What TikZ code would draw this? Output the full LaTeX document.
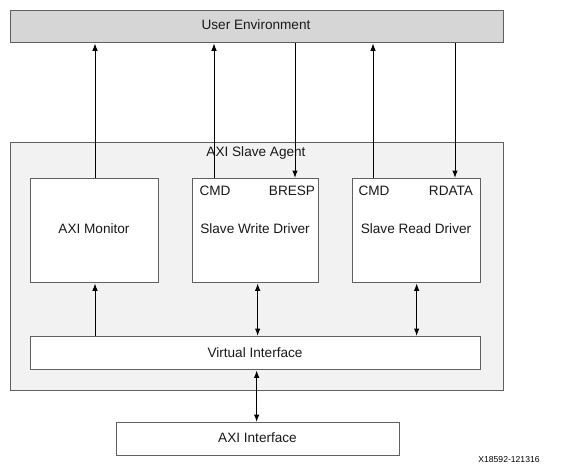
\documentclass[tikz,border=0pt]{standalone}
\usepackage{fontspec}
\setmainfont{Liberation Sans}
\usetikzlibrary{arrows.meta,calc}
\definecolor{bordergray}{HTML}{606060}
\definecolor{uefill}{HTML}{D6D6D6}
\definecolor{agentfill}{HTML}{F2F2F2}
\begin{document}
\begin{tikzpicture}[x=1pt,y=-1pt,
  every node/.style={font=\fontsize{13.6}{16}\selectfont, inner sep=0pt},
  box/.style={draw=bordergray, line width=1.3pt, fill=white, anchor=north west},
  lbl/.style={text=black!90},
  conn/.style={line width=1pt, -{Latex[length=7.5pt,width=5.5pt]}},
  dconn/.style={line width=1pt, {Latex[length=7.5pt,width=5.5pt]}-{Latex[length=7.5pt,width=5.5pt]}}]
\useasboundingbox (0,0) rectangle (562,471);
% outer boxes
\node[box, fill=uefill, minimum width=493pt, minimum height=32.5pt] (ue) at (10,9.5) {};
\node[lbl] (uelbl) at (256,25) {User Environment};
\node[box, fill=agentfill, minimum width=493pt, minimum height=248pt] (agent) at (10,142) {};
\node[lbl] (agentlbl) at (256,153) {AXI Slave Agent};
% inner boxes
\node[box, minimum width=128pt, minimum height=104pt] (mon) at (30,178) {};
\node[lbl] at (94,229) {AXI Monitor};
\node[box, minimum width=126pt, minimum height=104pt] (wd) at (192,178) {};
\node[lbl] (cmdw) at (215,191) {CMD};
\node[lbl] (bresp) at (292,191) {BRESP};
\node[lbl] at (255,229) {Slave Write Driver};
\node[box, minimum width=128pt, minimum height=104pt] (rd) at (352,178) {};
\node[lbl] (cmdr) at (374,191) {CMD};
\node[lbl] (rdata) at (451,191) {RDATA};
\node[lbl] at (416,229) {Slave Read Driver};
\node[box, minimum width=450pt, minimum height=33pt] (vi) at (30,336) {};
\node[lbl] at (255,352.5) {Virtual Interface};
\node[box, minimum width=283pt, minimum height=32.5pt] (axi) at (116,422) {};
\node[lbl] at (257.5,438) {AXI Interface};
\node[font=\fontsize{8.6}{10}\selectfont] (code) at (509,459.5) {X18592-121316};
% connectors
\coordinate (mc) at ([xshift=65pt]mon.north west);
\coordinate (wc) at ([xshift=22pt]wd.north west);
\coordinate (wb) at ([xshift=103pt]wd.north west);
\coordinate (rc) at ([xshift=21pt]rd.north west);
\coordinate (rr) at ([xshift=103pt]rd.north west);
\draw[conn] (mc) -- (mc |- ue.south);
\draw[conn] (wc) -- (wc |- ue.south);
\draw[conn] (wb |- ue.south) -- (wb);
\draw[conn] (rc) -- (rc |- ue.south);
\draw[conn] (rr |- ue.south) -- (rr);
\draw[conn] (vi.north -| mc) -- (mc |- mon.south);
\draw[dconn] ([xshift=2pt]wd.south) -- ([xshift=2pt]wd.south |- vi.north);
\draw[dconn] (rd.south) -- (rd.south |- vi.north);
\draw[dconn] ([xshift=1pt]vi.south) -- ([xshift=1pt]vi.south |- axi.north);
\end{tikzpicture}
\end{document}
